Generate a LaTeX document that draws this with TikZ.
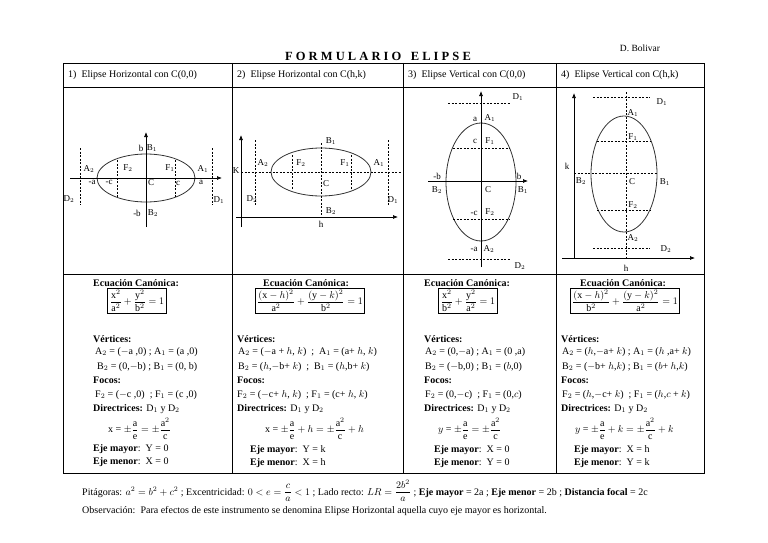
\documentclass[tikz,border=0pt]{standalone}
\usepackage{fontspec}
\setmainfont{Liberation Serif}
\usetikzlibrary{arrows.meta}
\begin{document}
\begin{tikzpicture}[x=1pt,y=-1pt,
 lab/.style={font=\fontsize{9}{10}\selectfont,inner sep=0pt},
 txt/.style={font=\fontsize{10}{11}\selectfont,inner sep=0pt,anchor=west},
 bt/.style={txt,font=\fontsize{10}{11}\selectfont\bfseries},
 axis/.style={line width=0.7pt,-{Latex[length=5pt,width=4pt]}},
 dsh/.style={dashed,line width=0.6pt,dash pattern=on 2pt off 1.5pt},
 ell/.style={line width=0.8pt,draw=black!80},
 fbox/.style={draw,line width=1pt,inner sep=2pt,font=\fontsize{10}{11}\selectfont}]
\useasboundingbox (0,0) rectangle (768,543);
% title
\node[font=\fontsize{12.5}{13}\selectfont\bfseries] (title) at (378,56) {F O R M U L A R I O \ \ E L I P S E};
\node[font=\fontsize{9.5}{10}\selectfont] (auth) at (640,48) {D. Bolivar};
% table
\draw[line width=0.9pt] (63,63) rectangle (704,473);
\draw[line width=0.9pt] (63,87) -- (704,87) (63,274) -- (704,274);
\foreach \x in {232,403,556} \draw[line width=0.9pt] (\x,63) -- (\x,473);
\node[txt] (h1) at (68,75) {1)\ \ Elipse Horizontal con C(0,0)};
\node[txt] (h2) at (237,75) {2)\ \ Elipse Horizontal con C(h,k)};
\node[txt] (h3) at (408,75) {3)\ \ Elipse Vertical con C(0,0)};
\node[txt] (h4) at (561,75) {4)\ \ Elipse Vertical con C(h,k)};
% panel 1
\draw[ell] (146,178) ellipse (49 and 24);
\draw[axis] (70,178) -- (222,178);
\draw[axis] (146,227) -- (146,132);
\foreach \x in {117,175} \draw[dsh] (\x,160) -- (\x,197);
\foreach \x in {80,212} \draw[dsh] (\x,148) -- (\x,205);
\node[lab] at (89,169) {A$_2$}; \node[lab] at (92,182) {-a};
\node[lab] at (128,168) {F$_2$}; \node[lab] at (109,182) {-c};
\node[lab] at (151,183) {C}; \node[lab] at (170,168) {F$_1$};
\node[lab] at (178,183) {c}; \node[lab] at (203,169) {A$_1$};
\node[lab] at (201,182) {a}; \node[lab] at (141,148) {b};
\node[lab] at (152,148) {B$_1$}; \node[lab] at (137,213) {-b};
\node[lab] at (153,213) {B$_2$}; \node[lab] at (69,199) {D$_2$};
\node[lab] at (219,200) {D$_1$};
% panel 2
\draw[ell] (321,172) ellipse (50 and 24);
\draw[axis] (241,227) -- (241,135);
\draw[axis] (236,217) -- (398,217);
\draw[dsh] (241,172) -- (401,172);
\draw[dsh] (321,143) -- (321,217);
\foreach \x in {292,351} \draw[dsh] (\x,155) -- (\x,190);
\foreach \x in {255,388} \draw[dsh] (\x,140) -- (\x,205);
\node[lab] at (331,141) {B$_1$}; \node[lab] at (263,163) {A$_2$};
\node[lab] at (301,163) {F$_2$}; \node[lab] at (345,163) {F$_1$};
\node[lab] at (379,163) {A$_1$}; \node[lab] at (236,171) {K};
\node[lab] at (326,184) {C}; \node[lab] at (252,199) {D$_2$};
\node[lab] at (393,200) {D$_1$}; \node[lab] at (331,211) {B$_2$};
\node[lab] at (321,224) {h};
% panel 3
\draw[ell] (481,182) ellipse (35 and 59);
\draw[axis] (481,267) -- (481,91);
\draw[axis] (428,181) -- (528,181);
\foreach \y in {148,219} \draw[dsh] (453,\y) -- (510,\y);
\foreach \y in {103,259} \draw[dsh] (448,\y) -- (510,\y);
\node[lab] at (518,97) {D$_1$}; \node[lab] at (475,119) {a};
\node[lab] at (490,118) {A$_1$}; \node[lab] at (475,141) {c};
\node[lab] at (490,141) {F$_1$}; \node[lab] at (437,176) {-b};
\node[lab] at (519,176) {b}; \node[lab] at (437,190) {B$_2$};
\node[lab] at (488,190) {C}; \node[lab] at (523,190) {B$_1$};
\node[lab] at (474,213) {-c}; \node[lab] at (490,212) {F$_2$};
\node[lab] at (474,249) {-a}; \node[lab] at (489,249) {A$_2$};
\node[lab] at (520,266) {D$_2$};
% panel 4
\draw[ell] (624,174) ellipse (33 and 58);
\draw[axis] (574,258) -- (574,93);
\draw[axis] (562,258) -- (695,258);
\draw[dsh] (626,92) -- (626,258);
\draw[dsh] (574,173) -- (657,173);
\foreach \y in {141,210} \draw[dsh] (597,\y) -- (650,\y);
\foreach \y in {97,248} \draw[dsh] (593,\y) -- (650,\y);
\node[lab] at (662,102) {D$_1$}; \node[lab] at (633,113) {A$_1$};
\node[lab] at (633,137) {F$_1$}; \node[lab] at (567,166) {k};
\node[lab] at (581,181) {B$_2$}; \node[lab] at (632,182) {C};
\node[lab] at (665,182) {B$_1$}; \node[lab] at (633,205) {F$_2$};
\node[lab] at (633,238) {A$_2$}; \node[lab] at (666,249) {D$_2$};
\node[lab] at (626,268) {h};
% formulas panel 1
\node[bt] at (93,283) {Ecuación Canónica:};
\node[fbox] at (137,301) {$\displaystyle\frac{\mathrm{x}^2}{\mathrm{a}^2}+\frac{\mathrm{y}^2}{\mathrm{b}^2}=1$};
\node[bt] at (93,339) {Vértices:};
\node[txt] at (95,352) {A$_2$ = ($-$a ,0) ; A$_1$ = (a ,0)};
\node[txt] at (97,367) {B$_2$ = (0,$-$b) ; B$_1$ = (0, b)};
\node[bt] at (93,380) {Focos:};
\node[txt] at (95,395) {F$_2$ = ($-$c ,0) \ ; F$_1$ = (c ,0)};
\node[txt] at (93,409) {\textbf{Directrices:} D$_1$ y D$_2$};
\node[txt] at (108,429) {x = $\displaystyle\pm\frac{\mathrm{a}}{\mathrm{e}}=\pm\frac{\mathrm{a}^2}{\mathrm{c}}$};
\node[txt] at (93,449) {\textbf{Eje mayor}:\ \ Y = 0};
\node[txt] at (93,462) {\textbf{Eje menor}:\ \ X = 0};
% formulas panel 2
\node[bt] at (263,283) {Ecuación Canónica:};
\node[fbox] at (310,301) {$\displaystyle\frac{(\mathrm{x}-h)^2}{\mathrm{a}^2}+\frac{(\mathrm{y}-k)^2}{\mathrm{b}^2}=1$};
\node[bt] at (237,339) {Vértices:};
\node[txt] at (238,352) {A$_2$ = ($-$a + $h$, $k$) \ ; \ A$_1$ = (a+ $h$, $k$)};
\node[txt] at (238,367) {B$_2$ = ($h$,$-$b+ $k$) \ ; \ B$_1$ = ($h$,b+ $k$)};
\node[bt] at (237,380) {Focos:};
\node[txt] at (237,395) {F$_2$ = ($-$c+ $h$, $k$) \ ; F$_1$ = (c+ $h$, $k$)};
\node[txt] at (237,409) {\textbf{Directrices:} D$_1$ y D$_2$};
\node[txt] at (265,429) {x = $\displaystyle\pm\frac{\mathrm{a}}{\mathrm{e}}+h=\pm\frac{\mathrm{a}^2}{\mathrm{c}}+h$};
\node[txt] at (250,450) {\textbf{Eje mayor}:\ \ Y = k};
\node[txt] at (250,463) {\textbf{Eje menor}:\ \ X = h};
% formulas panel 3
\node[bt] at (424,283) {Ecuación Canónica:};
\node[fbox] at (468,301) {$\displaystyle\frac{\mathrm{x}^2}{\mathrm{b}^2}+\frac{\mathrm{y}^2}{\mathrm{a}^2}=1$};
\node[bt] at (424,339) {Vértices:};
\node[txt] at (425,352) {A$_2$ = (0,$-$a) ; A$_1$ = (0 ,a)};
\node[txt] at (425,367) {B$_2$ = ($-$b,0) ; B$_1$ = ($b$,0)};
\node[bt] at (424,380) {Focos:};
\node[txt] at (425,395) {F$_2$ = (0,$-$c) \ ; F$_1$ = (0,$c$)};
\node[txt] at (424,409) {\textbf{Directrices:} D$_1$ y D$_2$};
\node[txt] at (438,429) {$y$ = $\displaystyle\pm\frac{\mathrm{a}}{\mathrm{e}}=\pm\frac{\mathrm{a}^2}{\mathrm{c}}$};
\node[txt] at (434,450) {\textbf{Eje mayor}:\ \ X = 0};
\node[txt] at (434,463) {\textbf{Eje menor}:\ \ Y = 0};
% formulas panel 4
\node[bt] at (580,283) {Ecuación Canónica:};
\node[fbox] at (625,301) {$\displaystyle\frac{(\mathrm{x}-h)^2}{\mathrm{b}^2}+\frac{(\mathrm{y}-k)^2}{\mathrm{a}^2}=1$};
\node[bt] at (561,339) {Vértices:};
\node[txt] at (562,352) {A$_2$ = ($h$,$-$a+ $k$) ; A$_1$ = ($h$ ,a+ $k$)};
\node[txt] at (562,367) {B$_2$ = ($-$b+ $h$,$k$) ; B$_1$ = ($b$+ $h$,$k$)};
\node[bt] at (561,380) {Focos:};
\node[txt] at (562,395) {F$_2$ = ($h$,$-$c+ $k$) \ ; F$_1$ = ($h$,$c$ + $k$)};
\node[txt] at (561,409) {\textbf{Directrices:} D$_1$ y D$_2$};
\node[txt] at (575,429) {$y$ = $\displaystyle\pm\frac{\mathrm{a}}{\mathrm{e}}+k=\pm\frac{\mathrm{a}^2}{\mathrm{c}}+k$};
\node[txt] at (574,450) {\textbf{Eje mayor}:\ \ X = h};
\node[txt] at (574,463) {\textbf{Eje menor}:\ \ Y = k};
% bottom
\node[txt] (pit) at (82,491) {Pitágoras: $a^2=b^2+c^2$ ; Excentricidad: $\displaystyle 0<e=\frac{c}{a}<1$ ; Lado recto: $\displaystyle LR=\frac{2b^2}{a}$ ; \textbf{Eje mayor} = 2a ; \textbf{Eje menor} = 2b ; \textbf{Distancia focal} = 2c};
\node[txt] (obs) at (82,511) {Observación:\ \ Para efectos de este instrumento se denomina Elipse Horizontal aquella cuyo eje mayor es horizontal.};
\end{tikzpicture}
\end{document}
